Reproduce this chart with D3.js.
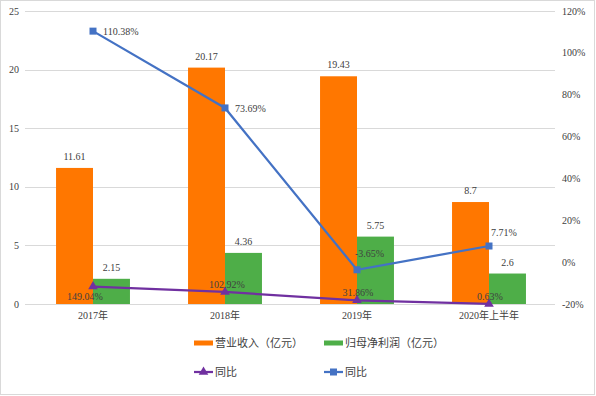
<!doctype html>
<html>
<meta charset="utf-8">
<style>
  body { margin: 0; background: #fff; }
  text { font-family: "Liberation Serif", "Noto Sans CJK SC", serif; font-size: 10px; fill: #404040; }
  .cjk { font-family: "Noto Sans CJK SC", sans-serif; }
</style>
<head>
  <script src="https://cdn.jsdelivr.net/npm/d3@7/dist/d3.min.js"></script>
</head>
<body>
<script>
  var width = 596, height = 396;

  var years = ["2017年", "2018年", "2019年", "2020年上半年"];
  var revenue = [11.61, 20.17, 19.43, 8.7];       // 营业收入（亿元）
  var profit = [2.15, 4.36, 5.75, 2.6];           // 归母净利润（亿元）
  var revGrowth = [1.4904, 1.0292, 0.3186, 0.0063]; // 同比 (purple, plotted on left axis)
  var profitGrowth = [1.1038, 0.7369, -0.0365, 0.0771]; // 同比 (blue, right axis)
  var leftTicks = [0, 5, 10, 15, 20, 25];
  var rightTicks = [-0.2, 0, 0.2, 0.4, 0.6, 0.8, 1.0, 1.2];

  var orange = "#ff7700", green = "#4eae48", blue = "#4472c4", purple = "#7030a0";

  var svg = d3.select("body").append("svg")
    .attr("width", width)
    .attr("height", height);

  // outer border
  svg.append("rect")
    .attr("x", 0.5).attr("y", 0.5)
    .attr("width", width - 2).attr("height", height - 2)
    .attr("fill", "#fff").attr("stroke", "#d9d9d9");

  var x = d3.scaleBand().domain(years).range([27, 555]);
  var y = d3.scaleLinear().domain([0, 25]).range([304, 11]);
  var y2 = d3.scaleLinear().domain([-0.2, 1.2]).range([304, 11]);
  var barW = x.bandwidth() * 0.28;
  var cx = function(d) { return x(d) + x.bandwidth() / 2; };

  // gridlines
  svg.append("g").selectAll("line")
    .data(leftTicks)
    .enter().append("line")
    .attr("x1", 25).attr("x2", 555)
    .attr("y1", function(d) { return Math.round(y(d)) + 0.5; })
    .attr("y2", function(d) { return Math.round(y(d)) + 0.5; })
    .attr("stroke", "#d9d9d9");

  // left axis labels
  svg.append("g").selectAll("text")
    .data(leftTicks)
    .enter().append("text")
    .attr("x", 19)
    .attr("y", function(d) { return y(d); })
    .attr("dy", "0.35em")
    .attr("text-anchor", "end")
    .text(function(d) { return d; });

  // right axis labels
  svg.append("g").selectAll("text")
    .data(rightTicks)
    .enter().append("text")
    .attr("x", 562)
    .attr("y", function(d) { return y2(d); })
    .attr("dy", "0.35em")
    .text(function(d) { return Math.round(d * 100) + "%"; });

  // category labels
  svg.append("g").selectAll("text")
    .data(years)
    .enter().append("text")
    .attr("x", cx)
    .attr("y", 319)
    .attr("text-anchor", "middle")
    .text(function(d) { return d; });

  // bars
  svg.append("g").selectAll("rect")
    .data(revenue)
    .enter().append("rect")
    .attr("x", function(d, i) { return cx(years[i]) - barW; })
    .attr("y", function(d) { return y(d); })
    .attr("width", barW)
    .attr("height", function(d) { return y(0) - y(d); })
    .attr("fill", orange);

  svg.append("g").selectAll("rect")
    .data(profit)
    .enter().append("rect")
    .attr("x", function(d, i) { return cx(years[i]); })
    .attr("y", function(d) { return y(d); })
    .attr("width", barW)
    .attr("height", function(d) { return y(0) - y(d); })
    .attr("fill", green);

  // bar labels
  svg.append("g").selectAll("text")
    .data(revenue)
    .enter().append("text")
    .attr("x", function(d, i) { return cx(years[i]) - barW / 2; })
    .attr("y", function(d) { return y(d) - 8; })
    .attr("text-anchor", "middle")
    .text(function(d) { return d; });

  svg.append("g").selectAll("text")
    .data(profit)
    .enter().append("text")
    .attr("x", function(d, i) { return cx(years[i]) + barW / 2; })
    .attr("y", function(d) { return y(d) - 8; })
    .attr("text-anchor", "middle")
    .text(function(d) { return d; });

  // blue line (right axis)
  var line2 = d3.line()
    .x(function(d, i) { return cx(years[i]); })
    .y(function(d) { return y2(d); });

  svg.append("path")
    .datum(profitGrowth)
    .attr("d", line2)
    .attr("fill", "none")
    .attr("stroke", blue)
    .attr("stroke-width", 2.25);

  svg.append("g").selectAll("rect")
    .data(profitGrowth)
    .enter().append("rect")
    .attr("x", function(d, i) { return cx(years[i]) - 3.5; })
    .attr("y", function(d) { return y2(d) - 3.5; })
    .attr("width", 7).attr("height", 7)
    .attr("fill", blue);

  var blueOff = [[10, 4], [10, 4], [-2, -13], [2, -10]];
  svg.append("g").selectAll("text")
    .data(profitGrowth)
    .enter().append("text")
    .attr("x", function(d, i) { return cx(years[i]) + blueOff[i][0]; })
    .attr("y", function(d, i) { return y2(d) + blueOff[i][1]; })
    .text(function(d) { return (d * 100).toFixed(2) + "%"; });

  // purple line (left axis)
  var line1 = d3.line()
    .x(function(d, i) { return cx(years[i]); })
    .y(function(d) { return y(d); });

  svg.append("path")
    .datum(revGrowth)
    .attr("d", line1)
    .attr("fill", "none")
    .attr("stroke", purple)
    .attr("stroke-width", 2.25);

  var tri = d3.symbol().type(d3.symbolTriangle).size(40);
  svg.append("g").selectAll("path")
    .data(revGrowth)
    .enter().append("path")
    .attr("d", tri)
    .attr("transform", function(d, i) { return "translate(" + cx(years[i]) + "," + y(d) + ")"; })
    .attr("fill", purple);

  var purpOff = [[-8, 13], [2, -4], [1, -4], [1, -4]];
  svg.append("g").selectAll("text")
    .data(revGrowth)
    .enter().append("text")
    .attr("x", function(d, i) { return cx(years[i]) + purpOff[i][0]; })
    .attr("y", function(d, i) { return y(d) + purpOff[i][1]; })
    .attr("text-anchor", "middle")
    .text(function(d) { return (d * 100).toFixed(2) + "%"; });

  // legend
  var legend = [
    { name: "营业收入（亿元）", color: orange, type: "bar", x: 194, y: 343 },
    { name: "归母净利润（亿元）", color: green, type: "bar", x: 324, y: 343 },
    { name: "同比", color: purple, type: "tri", x: 194, y: 372 },
    { name: "同比", color: blue, type: "sq", x: 324, y: 372 }
  ];
  var lg = svg.append("g").selectAll("g")
    .data(legend)
    .enter().append("g")
    .attr("transform", function(d) { return "translate(" + d.x + "," + d.y + ")"; });

  lg.filter(function(d) { return d.type == "bar"; })
    .append("rect")
    .attr("x", 0).attr("y", -2.5).attr("width", 19).attr("height", 5)
    .attr("fill", function(d) { return d.color; });

  lg.filter(function(d) { return d.type != "bar"; })
    .append("line")
    .attr("x1", 0).attr("x2", 19).attr("y1", 0).attr("y2", 0)
    .attr("stroke", function(d) { return d.color; })
    .attr("stroke-width", 2.25);

  lg.filter(function(d) { return d.type == "tri"; })
    .append("path")
    .attr("d", tri)
    .attr("transform", "translate(9.5,0)")
    .attr("fill", function(d) { return d.color; });

  lg.filter(function(d) { return d.type == "sq"; })
    .append("rect")
    .attr("x", 6).attr("y", -3.5).attr("width", 7).attr("height", 7)
    .attr("fill", function(d) { return d.color; });

  lg.append("text")
    .attr("class", "cjk")
    .attr("x", 21)
    .attr("dy", "0.35em")
    .style("font-size", "11px")
    .text(function(d) { return d.name; });
</script>
</body>
</html>
